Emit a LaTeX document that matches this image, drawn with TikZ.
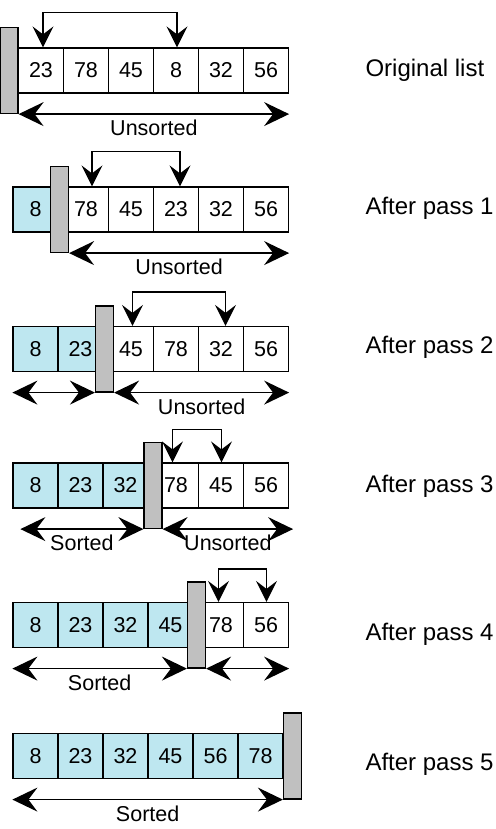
\documentclass[tikz,border=0pt]{standalone}
\usepackage{fontspec}
\setmainfont{Liberation Sans}
\usetikzlibrary{arrows.meta}
\definecolor{sortedblue}{RGB}{190,231,240}
\definecolor{wallgray}{RGB}{192,192,192}

\begin{document}
\begin{tikzpicture}[x=1pt, y=-1pt,
  cell/.style={draw, line width=1.2pt, minimum width=45pt, minimum height=45pt, inner sep=0pt, font=\fontsize{21.5}{21.5}\selectfont},
  done/.style={cell, fill=sortedblue},
  wall/.style={draw, line width=1.2pt, fill=wallgray, minimum width=18pt, minimum height=86pt, inner sep=0pt},
  swapline/.style={{Stealth[length=21pt,width=21pt,inset=8pt]}-{Stealth[length=21pt,width=21pt,inset=8pt]}, line width=1.3pt},
  spanline/.style={{Stealth[length=25pt,width=24pt,inset=9pt]}-{Stealth[length=25pt,width=24pt,inset=9pt]}, line width=1.3pt},
  part/.style={font=\fontsize{21.5}{21.5}\selectfont, below=2pt},
  tag/.style={font=\fontsize{24}{24}\selectfont, anchor=base west}]
\useasboundingbox (0,0) rectangle (495,829);

% Original list
\foreach \v [count=\i] in {23,78,45,8,32,56}
  \node[cell] (r0c\i) at (-4+45*\i, 70.5) {\v};
\node[wall] (w0) at (9,70.5) {};
\draw[swapline] ([xshift=2pt]r0c1.north) -- ++(0,-35) -| ([xshift=1pt]r0c4.north);
\draw[spanline] (w0.south east) -- (r0c6.south east |- w0.south) node[part, midway] {Unsorted};
\node[tag] (t0) at (362,77) {Original list};

% After pass 1
\foreach \v [count=\i] in {8}
  \node[done] (r1c\i) at (-9.5+45*\i, 209.5) {\v};
\foreach \v [count=\i from 2] in {78,45,23,32,56}
  \node[cell] (r1c\i) at (-4+45*\i, 209.5) {\v};
\node[wall] (w1) at (59.5,209.5) {};
\draw[swapline] ([xshift=6pt]r1c2.north) -- ++(0,-35) -| ([xshift=4pt]r1c4.north);
\draw[spanline] (w1.south east) -- (r1c6.south east |- w1.south) node[part, midway] {Unsorted};
\node[tag] (t1) at (362,214) {After pass 1};

% After pass 2
\foreach \v [count=\i] in {8,23}
  \node[done] (r2c\i) at (-9.5+45*\i, 349) {\v};
\foreach \v [count=\i from 3] in {45,78,32,56}
  \node[cell] (r2c\i) at (-4+45*\i, 349) {\v};
\node[wall] (w2) at (104.5,349) {};
\draw[swapline] ([xshift=1.5pt]r2c3.north) -- ++(0,-34) -| ([xshift=4.5pt]r2c5.north);
\draw[spanline] (r2c1.west |- w2.south) -- (w2.south west);
\draw[spanline] (w2.south east) -- (r2c6.south east |- w2.south) node[part, midway] {Unsorted};
\node[tag] (t2) at (362,353) {After pass 2};

% After pass 3
\foreach \v [count=\i] in {8,23,32}
  \node[done] (r3c\i) at (-9.5+45*\i, 485.5) {\v};
\foreach \v [count=\i from 4] in {78,45,56}
  \node[cell] (r3c\i) at (-4+45*\i, 485.5) {\v};
\node[wall] (w3) at (153,485.5) {};
\draw[swapline] ([xshift=-3.5pt]r3c4.north) -- ++(0,-33) -| ([xshift=0.5pt]r3c5.north);
\draw[spanline] ([xshift=8pt]r3c1.west |- w3.south) -- (w3.south west) node[part, midway] {Sorted};
\draw[spanline] (w3.south east) -- ([xshift=4pt]r3c6.south east |- w3.south) node[part, midway] {Unsorted};
\node[tag] (t3) at (362,492) {After pass 3};

% After pass 4
\foreach \v [count=\i] in {8,23,32,45}
  \node[done] (r4c\i) at (-9.5+45*\i, 625) {\v};
\foreach \v [count=\i from 5] in {78,56}
  \node[cell] (r4c\i) at (-4+45*\i, 625) {\v};
\node[wall] (w4) at (196.5,625) {};
\draw[swapline] ([xshift=-2.5pt]r4c5.north) -- ++(0,-33) -| ([xshift=0.5pt]r4c6.north);
\draw[spanline] (r4c1.west |- w4.south) -- (w4.south west) node[part, midway] {Sorted};
\draw[spanline] (w4.south east) -- (r4c6.south east |- w4.south);
\node[tag] (t4) at (362,640) {After pass 4};

% After pass 5
\foreach \v [count=\i] in {8,23,32,45,56,78}
  \node[done] (r5c\i) at (-9.5+45*\i, 756) {\v};
\node[wall] (w5) at (292.5,756) {};
\draw[spanline] (r5c1.west |- w5.south) -- (w5.south west) node[part, midway] {Sorted};
\node[tag] (t5) at (362,770) {After pass 5};
\end{tikzpicture}
\end{document}
